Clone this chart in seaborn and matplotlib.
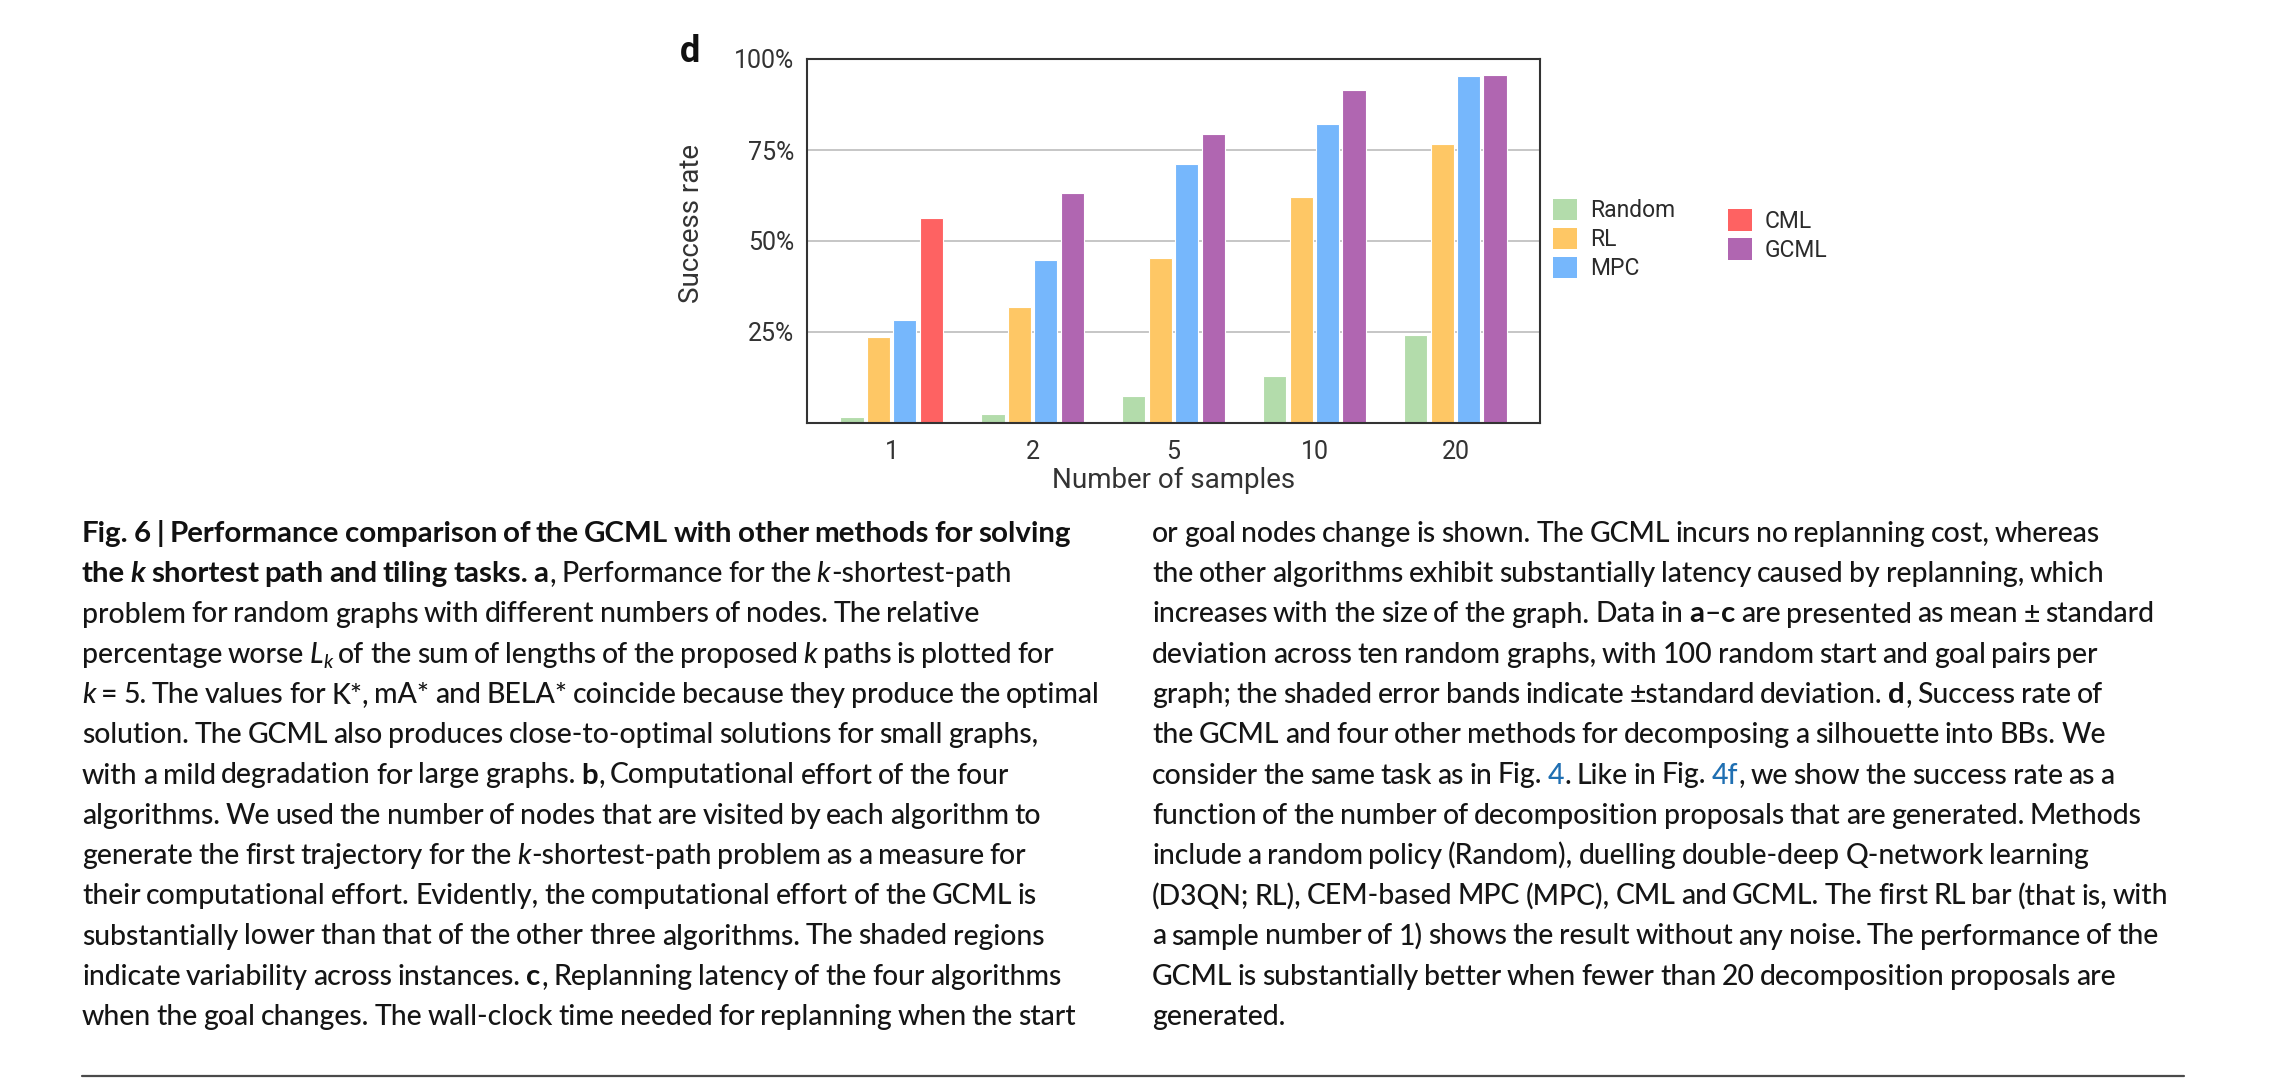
"""
Fig. 6d: success rate of GCML vs. other decomposition methods, with the figure caption.

Run: python plot.py
"""
import matplotlib

matplotlib.use("Agg")
import matplotlib.pyplot as plt
import pandas as pd
import seaborn as sns
from matplotlib.lines import Line2D
from matplotlib.patches import Patch
from matplotlib.ticker import FixedLocator, PercentFormatter
from matplotlib.transforms import IdentityTransform

W, H, DPI = 2278, 1080, 100

SAMPLES = ["1", "2", "5", "10", "20"]
METHODS = ["Random", "RL", "MPC", "CML", "GCML"]
COLORS = {
    "Random": "#b3dcab",
    "RL": "#fec765",
    "MPC": "#76b7fc",
    "CML": "#fe6262",
    "GCML": "#b066b1",
}

# success rate per number of samples
RANDOM = [0.016, 0.025, 0.073, 0.130, 0.241]
RL = [0.236, 0.319, 0.453, 0.621, 0.766]
MPC = [0.284, 0.449, 0.712, 0.822, 0.952]
CML = [0.563, None, None, None, None]
GCML = [None, 0.631, 0.794, 0.914, 0.957]

LEFT_LINES = [
    [("Fig. 6 | Performance comparison of the GCML with other methods for solving", "b")],
    [("the ", "b"), ("k", "bi"), (" shortest path and tiling tasks. a", "b"),
     (", Performance for the ", "r"), ("k", "i"), ("-shortest-path", "r")],
    [("problem for random graphs with different numbers of nodes. The relative", "r")],
    [("percentage worse ", "r"), ("L", "i"), ("k", "sub"),
     (" of the sum of lengths of the proposed ", "r"), ("k", "i"), (" paths is plotted for", "r")],
    [("k", "i"), (" = 5. The values for K*, mA* and BELA* coincide because they produce the optimal", "r")],
    [("solution. The GCML also produces close-to-optimal solutions for small graphs,", "r")],
    [("with a mild degradation for large graphs. ", "r"), ("b", "b"), (", Computational effort of the four", "r")],
    [("algorithms. We used the number of nodes that are visited by each algorithm to", "r")],
    [("generate the first trajectory for the ", "r"), ("k", "i"), ("-shortest-path problem as a measure for", "r")],
    [("their computational effort. Evidently, the computational effort of the GCML is", "r")],
    [("substantially lower than that of the other three algorithms. The shaded regions", "r")],
    [("indicate variability across instances. ", "r"), ("c", "b"), (", Replanning latency of the four algorithms", "r")],
    [("when the goal changes. The wall-clock time needed for replanning when the start", "r")],
]

RIGHT_LINES = [
    [("or goal nodes change is shown. The GCML incurs no replanning cost, whereas", "r")],
    [("the other algorithms exhibit substantially latency caused by replanning, which", "r")],
    [("increases with the size of the graph. Data in ", "r"), ("a", "b"), ("–", "r"), ("c", "b"),
     (" are presented as mean ± standard", "r")],
    [("deviation across ten random graphs, with 100 random start and goal pairs per", "r")],
    [("graph; the shaded error bands indicate ±standard deviation. ", "r"), ("d", "b"), (", Success rate of", "r")],
    [("the GCML and four other methods for decomposing a silhouette into BBs. We", "r")],
    [("consider the same task as in Fig. ", "r"), ("4", "link"), (". Like in Fig. ", "r"), ("4f", "link"),
     (", we show the success rate as a", "r")],
    [("function of the number of decomposition proposals that are generated. Methods", "r")],
    [("include a random policy (Random), duelling double-deep Q-network learning", "r")],
    [("(D3QN; RL), CEM-based MPC (MPC), CML and GCML. The first RL bar (that is, with", "r")],
    [("a sample number of 1) shows the result without any noise. The performance of the", "r")],
    [("GCML is substantially better when fewer than 20 decomposition proposals are", "r")],
    [("generated.", "r")],
]

CAP_FONT = ["Lato", "DejaVu Sans"]
CAP_SIZE = 20.4
FMT = {
    "r": dict(fontweight="medium", fontstyle="normal", color="#151515"),
    "b": dict(fontweight="bold", fontstyle="normal", color="#111111"),
    "i": dict(fontweight="medium", fontstyle="italic", color="#151515"),
    "bi": dict(fontweight="bold", fontstyle="italic", color="#111111"),
    "sub": dict(fontweight="medium", fontstyle="italic", color="#151515"),
    "link": dict(fontweight="medium", fontstyle="normal", color="#1f6fb2"),
}
SIZE_SCALE = {"b": 1.04, "bi": 1.04, "sub": 0.68}


def build_frame() -> pd.DataFrame:
    rows = []
    for i, s in enumerate(SAMPLES):
        fourth = ("CML", CML[i]) if CML[i] is not None else ("GCML", GCML[i])
        for slot, (m, v) in enumerate([("Random", RANDOM[i]), ("RL", RL[i]), ("MPC", MPC[i]), fourth]):
            rows.append({"samples": s, "slot": f"s{slot}", "method": m, "value": v})
    return pd.DataFrame(rows)


def text_width(fig, renderer, s, size, fmt):
    t = fig.text(0, 0, s, fontsize=size, family=CAP_FONT, **FMT[fmt])
    w = t.get_window_extent(renderer).width
    t.remove()
    return w


def draw_caption(fig, renderer, x0, y0, step, lines):
    spaces = {}
    for f in FMT:
        size = CAP_SIZE * SIZE_SCALE.get(f, 1.0)
        spaces[f] = (text_width(fig, renderer, "n n", size, f)
                     - text_width(fig, renderer, "nn", size, f)) * 0.7
    for k, parts in enumerate(lines):
        x = x0
        base = H - (y0 + k * step)
        for text, fmt in parts:
            size = CAP_SIZE * SIZE_SCALE.get(fmt, 1.0)
            dy = -5 if fmt == "sub" else 0
            for j, word in enumerate(text.split(" ")):
                if j > 0:
                    x += spaces[fmt]
                if not word:
                    continue
                t = fig.text(x, base + dy, word, transform=IdentityTransform(),
                             fontsize=size, family=CAP_FONT, va="baseline", ha="left", **FMT[fmt])
                x += t.get_window_extent(renderer).width + 0.5


def main():
    sns.set_style("white")
    plt.rcParams["font.family"] = ["Roboto", "DejaVu Sans"]
    plt.rcParams["text.color"] = "#2b2b2b"

    df = build_frame()
    fig = plt.figure(figsize=(W / DPI, H / DPI), dpi=DPI)
    ax = fig.add_axes([807 / W, 1 - 423 / H, (1540 - 807) / W, (423 - 59) / H])

    sns.barplot(data=df, x="samples", y="value", hue="slot", order=SAMPLES,
                hue_order=["s0", "s1", "s2", "s3"], palette=["#999999"] * 4,
                width=0.75, gap=0.12, dodge=True, errorbar=None, legend=False, ax=ax)

    # recolour every bar by the method it belongs to
    lookup = {(r.samples, r.slot): r.method for r in df.itertuples()}
    for container, slot in zip(ax.containers, ["s0", "s1", "s2", "s3"]):
        for bar in container:
            cx = bar.get_x() + bar.get_width() / 2
            s = SAMPLES[int(round(cx))]
            bar.set_facecolor(COLORS[lookup[(s, slot)]])
            bar.set_edgecolor("white")
            bar.set_linewidth(0.8)

    ax.set_xlim(-0.6, 4.6)
    ax.set_ylim(0, 1)
    ax.yaxis.set_major_locator(FixedLocator([0.25, 0.5, 0.75, 1.0]))
    ax.yaxis.set_major_formatter(PercentFormatter(1.0, decimals=0))
    ax.grid(axis="y", color="#c6c6c6", lw=1.4)
    ax.set_axisbelow(True)
    for sp in ax.spines.values():
        sp.set_color("#333333")
        sp.set_linewidth(1.5)
    ax.tick_params(axis="x", length=5, width=1.3, color="#333333", pad=7, labelsize=18, labelcolor="#333333")
    ax.tick_params(axis="y", length=3, width=1.0, color="#333333", pad=6, labelsize=18, labelcolor="#333333")

    ax.set_xlabel("Number of samples", fontsize=20, color="#333333", va="center")
    ax.xaxis.set_label_coords(0.5, -0.157)
    ax.set_ylabel("Success rate", fontsize=20, color="#333333", va="center")
    ax.yaxis.set_label_coords(-0.157, 0.549)

    fig.text(690 / W, 1 - 52 / H, "d", fontsize=26, fontweight="bold", color="#111111",
             ha="center", va="center")

    leg_kw = dict(loc="center left", frameon=False, fontsize=16.5, handlelength=1.05, handleheight=1.05,
                  handletextpad=0.56, labelspacing=0.24, borderpad=0, borderaxespad=0,
                  labelcolor="#2b2b2b")
    first = ["Random", "RL", "MPC"]
    fig.legend([Patch(fc=COLORS[m], ec="none") for m in first], first,
               bbox_to_anchor=(1553 / W, 1 - 239.5 / H), **leg_kw)
    second = ["CML", "GCML"]
    fig.legend([Patch(fc=COLORS[m], ec="none") for m in second], second,
               bbox_to_anchor=(1728 / W, 1 - 235.5 / H), **leg_kw)

    renderer = fig.canvas.get_renderer()
    draw_caption(fig, renderer, 82, 542, 40.25, LEFT_LINES)
    draw_caption(fig, renderer, 1152, 542, 40.25, RIGHT_LINES)

    fig.add_artist(Line2D([82 / W, 2184 / W], [1 - 1076 / H] * 2, color="#4a4a4a", lw=1.6))

    fig.savefig("out.png", dpi=DPI)
    plt.close(fig)


if __name__ == "__main__":
    main()
